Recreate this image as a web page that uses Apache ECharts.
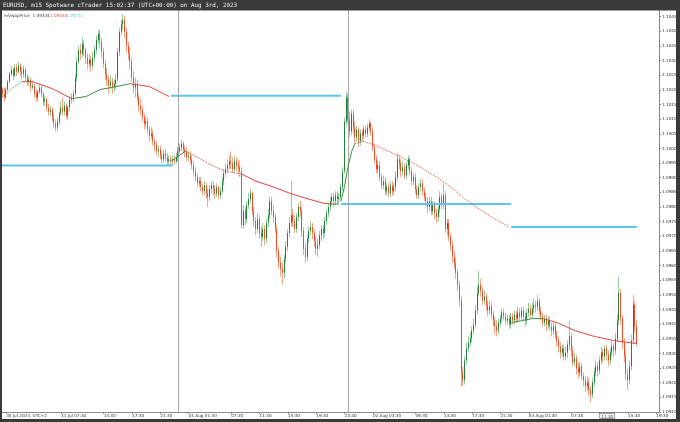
<!DOCTYPE html>
<html><head><meta charset="utf-8">
<script src="https://cdn.jsdelivr.net/npm/echarts@6/dist/echarts.min.js"></script>
<style>html,body{margin:0;padding:0;background:#fff}#c{width:680px;height:422px}</style>
</head><body><div id="c"></div>
<script>
// ---- EURUSD m15 candles (UTC+2), 30 Jul 23:00 -> 03 Aug 17:00 ----
const barOpen = [1.10214,
1.10201,1.10187,1.10174,1.10201,1.10228,1.10255,1.10269,1.10248,1.10276,1.10262,
1.10282,1.10262,1.10255,1.10269,1.10242,1.10228,1.10235,1.10208,1.10214,1.10187,
1.10174,1.10194,1.10208,1.10187,1.10160,1.10167,1.10140,1.10126,1.10133,1.10106,
1.10085,1.10072,1.10092,1.10119,1.10140,1.10126,1.10146,1.10112,1.10140,1.10167,
1.10174,1.10187,1.10242,1.10296,1.10337,1.10323,1.10357,1.10337,1.10310,1.10289,
1.10303,1.10282,1.10310,1.10337,1.10371,1.10391,1.10364,1.10330,1.10289,1.10255,
1.10235,1.10214,1.10228,1.10208,1.10221,1.10235,1.10330,1.10398,1.10425,1.10439,
1.10398,1.10350,1.10323,1.10296,1.10242,1.10208,1.10221,1.10174,1.10146,1.10133,
1.10106,1.10085,1.10092,1.10065,1.10044,1.10051,1.10024,1.10010,1.09990,1.09997,
1.09976,1.09963,1.09983,1.09970,1.09956,1.09963,1.09956,1.09963,1.09956,1.09970,
1.09990,1.10004,1.10017,1.09997,1.09990,1.09970,1.09976,1.09963,1.09942,1.09922,
1.09902,1.09881,1.09888,1.09868,1.09854,1.09874,1.09847,1.09834,1.09861,1.09874,
1.09861,1.09847,1.09868,1.09840,1.09854,1.09888,1.09915,1.09929,1.09942,1.09956,
1.09949,1.09929,1.09956,1.09942,1.09936,1.09922,1.09738,1.09786,1.09759,1.09806,
1.09827,1.09847,1.09786,1.09752,1.09725,1.09759,1.09711,1.09698,1.09725,1.09691,
1.09745,1.09772,1.09820,1.09786,1.09766,1.09725,1.09650,1.09609,1.09589,1.09575,
1.09623,1.09664,1.09711,1.09745,1.09772,1.09752,1.09725,1.09766,1.09800,1.09786,
1.09718,1.09657,1.09630,1.09691,1.09718,1.09732,1.09711,1.09684,1.09657,1.09670,
1.09704,1.09725,1.09711,1.09752,1.09779,1.09800,1.09820,1.09834,1.09820,1.09840,
1.09827,1.09834,1.09868,1.09922,1.10092,1.10174,1.10099,1.10058,1.10119,1.10072,
1.10038,1.10065,1.10024,1.10051,1.10044,1.10065,1.10051,1.10072,1.10085,1.10058,
1.10004,1.09963,1.09929,1.09942,1.09902,1.09874,1.09888,1.09854,1.09868,1.09847,
1.09874,1.09854,1.09868,1.09902,1.09963,1.09949,1.09922,1.09936,1.09908,1.09942,
1.09963,1.09922,1.09888,1.09902,1.09861,1.09840,1.09868,1.09881,1.09854,1.09834,
1.09820,1.09800,1.09820,1.09786,1.09806,1.09779,1.09766,1.09793,1.09834,1.09806,
1.09840,1.09725,1.09745,1.09698,1.09670,1.09630,1.09609,1.09575,1.09534,1.09480,
1.09235,1.09208,1.09276,1.09317,1.09337,1.09351,1.09378,1.09398,1.09446,1.09507,
1.09534,1.09514,1.09480,1.09494,1.09466,1.09446,1.09460,1.09432,1.09412,1.09392,
1.09378,1.09405,1.09419,1.09439,1.09426,1.09412,1.09419,1.09398,1.09426,1.09412,
1.09432,1.09419,1.09439,1.09426,1.09446,1.09426,1.09412,1.09439,1.09453,1.09432,
1.09453,1.09466,1.09460,1.09480,1.09446,1.09426,1.09405,1.09419,1.09398,1.09412,
1.09392,1.09378,1.09392,1.09364,1.09344,1.09324,1.09303,1.09317,1.09290,1.09303,
1.09330,1.09358,1.09310,1.09269,1.09283,1.09249,1.09235,1.09256,1.09222,1.09208,
1.09188,1.09201,1.09174,1.09160,1.09201,1.09235,1.09256,1.09242,1.09276,1.09303,
1.09290,1.09317,1.09296,1.09276,1.09303,1.09324,1.09310,1.09351,1.09412,1.09507,
1.09419,1.09337,1.09290,1.09228,1.09208,1.09256,1.09344,1.09466,1.09392];

const barHigh = [
1.10228,1.10208,1.10208,1.10208,1.10235,1.10262,1.10282,1.10276,1.10289,1.10289,
1.10296,1.10289,1.10276,1.10282,1.10276,1.10255,1.10248,1.10242,1.10228,1.10221,
1.10201,1.10201,1.10221,1.10214,1.10194,1.10180,1.10174,1.10153,1.10146,1.10140,
1.10119,1.10099,1.10106,1.10126,1.10160,1.10174,1.10160,1.10153,1.10146,1.10180,
1.10187,1.10201,1.10255,1.10310,1.10350,1.10357,1.10378,1.10371,1.10344,1.10323,
1.10323,1.10316,1.10330,1.10350,1.10384,1.10405,1.10405,1.10378,1.10344,1.10303,
1.10276,1.10248,1.10248,1.10242,1.10235,1.10255,1.10344,1.10412,1.10439,1.10459,
1.10452,1.10412,1.10364,1.10344,1.10310,1.10262,1.10242,1.10235,1.10187,1.10167,
1.10146,1.10119,1.10112,1.10106,1.10078,1.10072,1.10065,1.10038,1.10024,1.10010,
1.10010,1.09990,1.09997,1.09997,1.09983,1.09976,1.09976,1.09976,1.09976,1.09983,
1.10004,1.10017,1.10031,1.10024,1.10010,1.10004,1.09990,1.09990,1.09976,1.09956,
1.09936,1.09915,1.09902,1.09902,1.09881,1.09888,1.09881,1.09861,1.09874,1.09888,
1.09888,1.09874,1.09881,1.09874,1.09868,1.09902,1.09929,1.09949,1.09963,1.09976,
1.09990,1.09970,1.09976,1.09970,1.09963,1.09956,1.09936,1.09806,1.09800,1.09820,
1.09847,1.09861,1.09854,1.09800,1.09766,1.09779,1.09772,1.09732,1.09745,1.09738,
1.09759,1.09793,1.09834,1.09834,1.09806,1.09779,1.09738,1.09664,1.09630,1.09609,
1.09636,1.09684,1.09725,1.09766,1.09888,1.09793,1.09772,1.09779,1.09813,1.09820,
1.09800,1.09732,1.09677,1.09704,1.09732,1.09752,1.09745,1.09725,1.09698,1.09691,
1.09718,1.09738,1.09738,1.09766,1.09793,1.09813,1.09834,1.09847,1.09847,1.09854,
1.09854,1.09847,1.09881,1.09936,1.10106,1.10194,1.10187,1.10126,1.10133,1.10133,
1.10092,1.10078,1.10072,1.10065,1.10065,1.10078,1.10078,1.10085,1.10099,1.10092,
1.10072,1.10017,1.09976,1.09956,1.09956,1.09915,1.09908,1.09902,1.09881,1.09881,
1.09888,1.09888,1.09881,1.09922,1.09983,1.09976,1.09963,1.09956,1.09949,1.09956,
1.09976,1.09970,1.09936,1.09915,1.09915,1.09874,1.09881,1.09895,1.09895,1.09868,
1.09847,1.09834,1.09834,1.09834,1.09820,1.09820,1.09793,1.09806,1.09854,1.09847,
1.09881,1.09854,1.09759,1.09759,1.09711,1.09684,1.09650,1.09623,1.09589,1.09548,
1.09494,1.09256,1.09290,1.09337,1.09358,1.09371,1.09392,1.09419,1.09466,1.09528,
1.09582,1.09555,1.09528,1.09514,1.09507,1.09480,1.09480,1.09473,1.09446,1.09426,
1.09412,1.09419,1.09432,1.09453,1.09453,1.09439,1.09432,1.09432,1.09439,1.09439,
1.09446,1.09446,1.09460,1.09453,1.09460,1.09460,1.09439,1.09453,1.09473,1.09466,
1.09473,1.09487,1.09480,1.09500,1.09487,1.09460,1.09439,1.09432,1.09432,1.09426,
1.09426,1.09405,1.09405,1.09405,1.09378,1.09358,1.09337,1.09330,1.09330,1.09324,
1.09344,1.09412,1.09371,1.09324,1.09303,1.09296,1.09269,1.09269,1.09269,1.09235,
1.09222,1.09222,1.09215,1.09188,1.09215,1.09249,1.09276,1.09269,1.09290,1.09324,
1.09317,1.09330,1.09330,1.09310,1.09317,1.09344,1.09337,1.09371,1.09432,1.09562,
1.09521,1.09432,1.09351,1.09310,1.09249,1.09276,1.09364,1.09500,1.09480,1.09412];

const barLow = [
1.10187,1.10174,1.10160,1.10167,1.10194,1.10221,1.10248,1.10235,1.10242,1.10248,
1.10255,1.10248,1.10235,1.10242,1.10228,1.10214,1.10214,1.10194,1.10201,1.10174,
1.10160,1.10160,1.10187,1.10174,1.10146,1.10146,1.10126,1.10112,1.10112,1.10092,
1.10072,1.10058,1.10058,1.10078,1.10112,1.10112,1.10112,1.10099,1.10099,1.10126,
1.10153,1.10160,1.10180,1.10228,1.10289,1.10303,1.10310,1.10316,1.10289,1.10269,
1.10276,1.10262,1.10269,1.10296,1.10323,1.10357,1.10344,1.10310,1.10276,1.10235,
1.10214,1.10187,1.10201,1.10187,1.10194,1.10201,1.10228,1.10316,1.10384,1.10405,
1.10378,1.10330,1.10303,1.10269,1.10228,1.10187,1.10174,1.10160,1.10126,1.10112,
1.10092,1.10065,1.10072,1.10051,1.10024,1.10031,1.10010,1.09990,1.09976,1.09970,
1.09963,1.09949,1.09949,1.09956,1.09942,1.09942,1.09942,1.09942,1.09942,1.09949,
1.09956,1.09983,1.09990,1.09983,1.09970,1.09956,1.09956,1.09949,1.09929,1.09908,
1.09888,1.09868,1.09868,1.09854,1.09840,1.09840,1.09827,1.09800,1.09820,1.09847,
1.09840,1.09827,1.09834,1.09827,1.09827,1.09847,1.09874,1.09902,1.09915,1.09929,
1.09929,1.09915,1.09915,1.09922,1.09915,1.09902,1.09725,1.09725,1.09738,1.09745,
1.09793,1.09813,1.09772,1.09732,1.09704,1.09711,1.09691,1.09664,1.09684,1.09670,
1.09677,1.09732,1.09759,1.09772,1.09745,1.09711,1.09630,1.09589,1.09562,1.09534,
1.09555,1.09609,1.09650,1.09698,1.09732,1.09732,1.09711,1.09711,1.09752,1.09766,
1.09698,1.09636,1.09609,1.09616,1.09677,1.09704,1.09691,1.09664,1.09636,1.09630,
1.09657,1.09684,1.09691,1.09698,1.09738,1.09766,1.09786,1.09806,1.09800,1.09806,
1.09813,1.09813,1.09820,1.09854,1.09915,1.10078,1.10085,1.10038,1.10044,1.10051,
1.10017,1.10024,1.10004,1.10010,1.10024,1.10031,1.10038,1.10038,1.10058,1.10044,
1.09990,1.09949,1.09915,1.09915,1.09888,1.09861,1.09861,1.09840,1.09840,1.09834,
1.09834,1.09840,1.09840,1.09854,1.09888,1.09929,1.09902,1.09908,1.09895,1.09895,
1.09929,1.09908,1.09874,1.09874,1.09847,1.09827,1.09827,1.09854,1.09840,1.09820,
1.09800,1.09779,1.09786,1.09772,1.09772,1.09759,1.09745,1.09752,1.09779,1.09793,
1.09793,1.09711,1.09704,1.09684,1.09650,1.09609,1.09589,1.09555,1.09514,1.09460,
1.09188,1.09188,1.09194,1.09262,1.09303,1.09324,1.09337,1.09364,1.09385,1.09432,
1.09494,1.09494,1.09466,1.09466,1.09446,1.09426,1.09432,1.09419,1.09392,1.09364,
1.09358,1.09364,1.09392,1.09405,1.09412,1.09398,1.09398,1.09385,1.09385,1.09398,
1.09398,1.09405,1.09405,1.09412,1.09412,1.09412,1.09392,1.09398,1.09426,1.09419,
1.09419,1.09439,1.09439,1.09446,1.09432,1.09412,1.09392,1.09392,1.09378,1.09385,
1.09378,1.09358,1.09364,1.09351,1.09324,1.09303,1.09283,1.09290,1.09276,1.09276,
1.09283,1.09310,1.09290,1.09256,1.09256,1.09228,1.09215,1.09222,1.09208,1.09188,
1.09167,1.09174,1.09154,1.09133,1.09147,1.09188,1.09222,1.09222,1.09228,1.09262,
1.09269,1.09276,1.09276,1.09256,1.09262,1.09290,1.09290,1.09296,1.09337,1.09398,
1.09398,1.09317,1.09269,1.09208,1.09174,1.09194,1.09242,1.09330,1.09371,1.09324];

const barClose = [
1.10201,1.10187,1.10174,1.10201,1.10228,1.10255,1.10269,1.10248,1.10276,1.10262,
1.10282,1.10262,1.10255,1.10269,1.10242,1.10228,1.10235,1.10208,1.10214,1.10187,
1.10174,1.10194,1.10208,1.10187,1.10160,1.10167,1.10140,1.10126,1.10133,1.10106,
1.10085,1.10072,1.10092,1.10119,1.10140,1.10126,1.10146,1.10112,1.10140,1.10167,
1.10174,1.10187,1.10242,1.10296,1.10337,1.10323,1.10357,1.10337,1.10310,1.10289,
1.10303,1.10282,1.10310,1.10337,1.10371,1.10391,1.10364,1.10330,1.10289,1.10255,
1.10235,1.10214,1.10228,1.10208,1.10221,1.10235,1.10330,1.10398,1.10425,1.10439,
1.10398,1.10350,1.10323,1.10296,1.10242,1.10208,1.10221,1.10174,1.10146,1.10133,
1.10106,1.10085,1.10092,1.10065,1.10044,1.10051,1.10024,1.10010,1.09990,1.09997,
1.09976,1.09963,1.09983,1.09970,1.09956,1.09963,1.09956,1.09963,1.09956,1.09970,
1.09990,1.10004,1.10017,1.09997,1.09990,1.09970,1.09976,1.09963,1.09942,1.09922,
1.09902,1.09881,1.09888,1.09868,1.09854,1.09874,1.09847,1.09834,1.09861,1.09874,
1.09861,1.09847,1.09868,1.09840,1.09854,1.09888,1.09915,1.09929,1.09942,1.09956,
1.09949,1.09929,1.09956,1.09942,1.09936,1.09922,1.09738,1.09786,1.09759,1.09806,
1.09827,1.09847,1.09786,1.09752,1.09725,1.09759,1.09711,1.09698,1.09725,1.09691,
1.09745,1.09772,1.09820,1.09786,1.09766,1.09725,1.09650,1.09609,1.09589,1.09575,
1.09623,1.09664,1.09711,1.09745,1.09772,1.09752,1.09725,1.09766,1.09800,1.09786,
1.09718,1.09657,1.09630,1.09691,1.09718,1.09732,1.09711,1.09684,1.09657,1.09670,
1.09704,1.09725,1.09711,1.09752,1.09779,1.09800,1.09820,1.09834,1.09820,1.09840,
1.09827,1.09834,1.09868,1.09922,1.10092,1.10174,1.10099,1.10058,1.10119,1.10072,
1.10038,1.10065,1.10024,1.10051,1.10044,1.10065,1.10051,1.10072,1.10085,1.10058,
1.10004,1.09963,1.09929,1.09942,1.09902,1.09874,1.09888,1.09854,1.09868,1.09847,
1.09874,1.09854,1.09868,1.09902,1.09963,1.09949,1.09922,1.09936,1.09908,1.09942,
1.09963,1.09922,1.09888,1.09902,1.09861,1.09840,1.09868,1.09881,1.09854,1.09834,
1.09820,1.09800,1.09820,1.09786,1.09806,1.09779,1.09766,1.09793,1.09834,1.09806,
1.09840,1.09725,1.09745,1.09698,1.09670,1.09630,1.09609,1.09575,1.09534,1.09480,
1.09235,1.09208,1.09276,1.09317,1.09337,1.09351,1.09378,1.09398,1.09446,1.09507,
1.09534,1.09514,1.09480,1.09494,1.09466,1.09446,1.09460,1.09432,1.09412,1.09392,
1.09378,1.09405,1.09419,1.09439,1.09426,1.09412,1.09419,1.09398,1.09426,1.09412,
1.09432,1.09419,1.09439,1.09426,1.09446,1.09426,1.09412,1.09439,1.09453,1.09432,
1.09453,1.09466,1.09460,1.09480,1.09446,1.09426,1.09405,1.09419,1.09398,1.09412,
1.09392,1.09378,1.09392,1.09364,1.09344,1.09324,1.09303,1.09317,1.09290,1.09303,
1.09330,1.09358,1.09310,1.09269,1.09283,1.09249,1.09235,1.09256,1.09222,1.09208,
1.09188,1.09201,1.09174,1.09160,1.09201,1.09235,1.09256,1.09242,1.09276,1.09303,
1.09290,1.09317,1.09296,1.09276,1.09303,1.09324,1.09310,1.09351,1.09412,1.09507,
1.09419,1.09337,1.09290,1.09228,1.09208,1.09256,1.09344,1.09466,1.09392,1.09334];

// axis: 372 m15 slots (360 bars + empty future slots)
const slotCount = 372;
const tickIndex = [3, 34, 58, 74, 90, 106, 130, 146, 162, 178, 194, 210, 234, 250, 266, 282, 298, 322, 338, 354, 370];
const tickText = ['30 Jul 2023, UTC+2', '31 Jul 07:30', '13:30', '17:30', '21:30', '01 Aug 01:30', '07:30', '11:30', '15:30', '19:30', '23:30',
  '02 Aug 03:30', '09:30', '13:30', '17:30', '21:30', '03 Aug 01:30', '07:30', '11:30', '15:30', '19:30'];
const boxedTickIndex = 338;
const daySeparatorIndex = [100, 196];

// session VWAP (mVwapPrice) traced segments: [barIndex, price]
const vwapSegments = [
  {color: 'green', dotted: true,  pts: [[1,1.10177],[7,1.10208],[12,1.10228]]},
  {color: 'red',   dotted: false, pts: [[12,1.10228],[18,1.10228],[29,1.10204],[40,1.10170]]},
  {color: 'green', dotted: false, pts: [[40,1.10170],[48,1.10177],[56,1.10201],[65,1.10211],[73,1.10221]]},
  {color: 'red',   dotted: false, pts: [[73,1.10221],[84,1.10211],[95,1.10177]]},
  {color: 'green', dotted: false, pts: [[96,1.09956],[100,1.09973],[104,1.09990]]},
  {color: 'red',   dotted: true,  pts: [[104,1.09990],[108,1.09980],[113,1.09963],[118,1.09946],[124,1.09929],[130,1.09919],[136,1.09912]]},
  {color: 'red',   dotted: false, pts: [[136,1.09912],[144,1.09888],[154,1.09868],[163,1.09847],[172,1.09830],[182,1.09813],[187,1.09810]]},
  {color: 'green', dotted: false, pts: [[187,1.09810],[191,1.09810]]},
  {color: 'green', dotted: false, pts: [[192,1.09820],[194,1.09871],[196,1.09939],[198,1.09990],[200,1.10017]]},
  {color: 'red',   dotted: true,  pts: [[200,1.10017],[205,1.10024],[210,1.10014],[218,1.09993],[226,1.09970],[236,1.09939],[246,1.09902],[254,1.09868],[262,1.09827],[270,1.09793],[278,1.09762],[287,1.09732]]},
  {color: 'green', dotted: false, pts: [[288,1.09405],[294,1.09412],[300,1.09419],[306,1.09419]]},
  {color: 'red',   dotted: false, pts: [[306,1.09419],[314,1.09405],[324,1.09378],[335,1.09358],[346,1.09344],[359,1.09334]]}
];

// previous-session VWAP levels (blue)
const levelStart = [0, 96, 192, 288];
const levelEnd = [97, 192, 288, 359];
const levelValue = [1.09942, 1.10180, 1.09810, 1.09732];

const legendValues = ['1.09334', '1.09334', '1.09712'];
const titleText = 'EURUSD, m15 Spotware cTrader 15:02:37 (UTC+00:00) on Aug 3rd, 2023';

// ---------------- chart ----------------
const UP = '#1f8236', DOWN = '#f04d24', UP_W = '#93cf9d', DOWN_W = '#f6a287';
const categories = Array.from({length: slotCount}, (_, i) => String(i));
const tickMap = {};
tickIndex.forEach((k, j) => { tickMap[k] = tickText[j]; });

const fullData = barOpen.map((o, i) => [o, barClose[i], barLow[i], barHigh[i]]);
const bodyData = barOpen.map((o, i) => [o, barClose[i], Math.min(o, barClose[i]), Math.max(o, barClose[i])]);

const series = [
  {
    type: 'candlestick', data: fullData, barWidth: 1, silent: true, z: 2,
    itemStyle: {color: UP_W, color0: DOWN_W, borderColor: UP_W, borderColor0: DOWN_W, borderWidth: 1},
    markLine: {
      symbol: ['none', 'none'], silent: true, label: {show: false}, animation: false,
      lineStyle: {color: '#a8a8a8', width: 1, type: 'solid'},
      data: daySeparatorIndex.map(v => ({xAxis: v}))
    }
  },
  {
    type: 'candlestick', data: bodyData, barWidth: 1.2, silent: true, z: 3,
    itemStyle: {color: UP, color0: DOWN, borderColor: UP, borderColor0: DOWN, borderWidth: 1}
  }
];
levelValue.forEach((v, k) => {
  series.push({type: 'line', data: [[levelStart[k], v], [levelEnd[k], v]], symbol: 'none', silent: true, z: 4,
    lineStyle: {color: '#5cc6f2', width: 2}});
});
vwapSegments.forEach(s => {
  series.push({type: 'line', data: s.pts, symbol: 'none', silent: true, z: 5, smooth: false,
    lineStyle: {color: s.color === 'green' ? '#3c8f43' : '#e2463c', width: 1, type: s.dotted ? 'dotted' : 'solid'}});
});

const chart = echarts.init(document.getElementById('c'), null, {renderer: 'canvas'});
chart.setOption({
  animation: false,
  backgroundColor: '#ffffff',
  grid: {left: -3.4, right: 21, top: 0.3, bottom: 10, containLabel: false},
  xAxis: {
    type: 'category', data: categories, boundaryGap: true,
    axisLine: {show: true, lineStyle: {color: '#8a8a8a', width: 1}},
    axisTick: {show: true, alignWithLabel: true, length: 2, interval: (i) => tickMap[i] !== undefined, lineStyle: {color: '#8a8a8a'}},
    axisLabel: {
      show: true, interval: (i) => tickMap[i] !== undefined, align: 'left', margin: 1.5,
      fontSize: 4.2, color: '#333', fontFamily: 'DejaVu Sans',
      formatter: (v, i) => (+v === boxedTickIndex ? '{b|' + tickMap[+v] + '}' : tickMap[+v]),
      rich: {b: {fontSize: 4.2, color: '#333', borderColor: '#555', borderWidth: 0.6, padding: [1, 1.5, 0, 1.5], fontFamily: 'DejaVu Sans'}}
    },
    splitLine: {show: false}
  },
  yAxis: {
    type: 'value', position: 'right', scale: true,
    min: 1.0910, max: 1.1050, interval: 0.0005,
    axisLine: {show: true, lineStyle: {color: '#8a8a8a', width: 1}},
    axisTick: {show: true, length: 2, lineStyle: {color: '#8a8a8a'}},
    axisLabel: {show: true, margin: 3, fontSize: 4.2, color: '#333', fontFamily: 'DejaVu Sans',
      formatter: v => v.toFixed(4)},
    splitLine: {show: false}
  },
  series: series,
  graphic: [
    {type: 'rect', left: 0, top: 0, shape: {width: 680, height: 10.5}, style: {fill: '#3a3a3a'}, z: 100, silent: true},
    {type: 'rect', left: 0, top: 0, shape: {width: 2, height: 422}, style: {fill: '#3a3a3a'}, z: 100, silent: true},
    {type: 'rect', left: 676, top: 0, shape: {width: 4, height: 422}, style: {fill: '#3a3a3a'}, z: 100, silent: true},
    {type: 'rect', left: 0, top: 419, shape: {width: 680, height: 3}, style: {fill: '#3a3a3a'}, z: 100, silent: true},
    {type: 'text', left: 3, top: 2.2, z: 101, silent: true,
      style: {text: titleText, fill: '#f0f0f0', font: '5.9px "DejaVu Sans Mono"'}},
    {type: 'text', left: 4, top: 14, z: 101, silent: true,
      style: {text: 'mVwapPrice  ' + legendValues[0], fill: '#444', font: '4.2px "DejaVu Sans"'}},
    {type: 'text', left: 50, top: 14, z: 101, silent: true,
      style: {text: legendValues[1], fill: '#f0463a', font: '4.2px "DejaVu Sans"'}},
    {type: 'text', left: 66, top: 14, z: 101, silent: true,
      style: {text: legendValues[2], fill: '#5cc6f2', font: '4.2px "DejaVu Sans"'}}
  ]
});
</script>
</body></html>
